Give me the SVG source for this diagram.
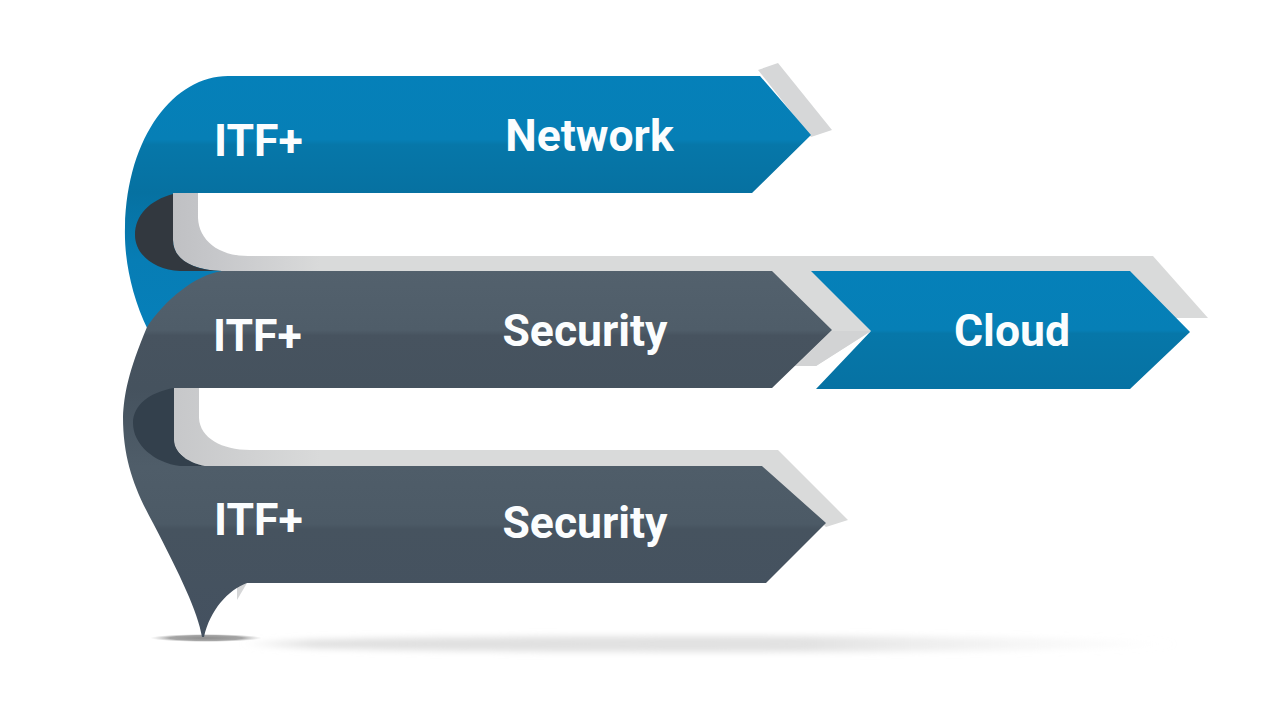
<svg xmlns="http://www.w3.org/2000/svg" width="1280" height="720" viewBox="0 0 1280 720">
<style>
text{font-family:Roboto,"Liberation Sans",sans-serif;font-weight:700;fill:#fbfdfe}
.itf{font-size:44.5px}.lbl{font-size:44.5px;text-anchor:middle}
.fold{fill:url(#fold)}
.fold2{fill:url(#fold2)}
</style>
<defs>
<linearGradient id="blue" x1="0" y1="0" x2="0" y2="1"><stop offset="0" stop-color="#0580b9"/><stop offset=".5" stop-color="#067fb6"/><stop offset=".53" stop-color="#0677a9"/><stop offset="1" stop-color="#0672a3"/></linearGradient>
<linearGradient id="blue1" gradientUnits="userSpaceOnUse" x1="0" y1="76" x2="0" y2="340"><stop offset="0" stop-color="#0580b9"/><stop offset=".24" stop-color="#067fb6"/><stop offset=".26" stop-color="#0677a9"/><stop offset=".44" stop-color="#0671a1"/><stop offset=".7" stop-color="#077db5"/><stop offset="1" stop-color="#0680ba"/></linearGradient>
<linearGradient id="slate2" gradientUnits="userSpaceOnUse" x1="0" y1="271" x2="0" y2="640"><stop offset="0" stop-color="#53616d"/><stop offset=".16" stop-color="#4f5d69"/><stop offset=".175" stop-color="#47535f"/><stop offset=".317" stop-color="#45525e"/><stop offset=".53" stop-color="#4f5d69"/><stop offset=".685" stop-color="#4c5a66"/><stop offset=".7" stop-color="#46535f"/><stop offset="1" stop-color="#445160"/></linearGradient>
<linearGradient id="fold" gradientUnits="userSpaceOnUse" x1="170" y1="0" x2="320" y2="0"><stop offset="0" stop-color="#bfc0c3"/><stop offset=".3" stop-color="#c6c7ca"/><stop offset="1" stop-color="#d9dada"/></linearGradient>
<linearGradient id="fold2" gradientUnits="userSpaceOnUse" x1="170" y1="0" x2="320" y2="0"><stop offset="0" stop-color="#c6c7c9"/><stop offset="1" stop-color="#d9dada"/></linearGradient>
<linearGradient id="floor" x1="0" y1="0" x2="1" y2="0"><stop offset="0" stop-color="#d8d8d8" stop-opacity="0"/><stop offset=".08" stop-color="#e0e0e0"/><stop offset=".6" stop-color="#e2e2e2"/><stop offset="1" stop-color="#eeeeee" stop-opacity="0"/></linearGradient>
<radialGradient id="spot"><stop offset="0" stop-color="#8e8e8e"/><stop offset=".65" stop-color="#a6a6a6"/><stop offset="1" stop-color="#c8c8c8" stop-opacity="0"/></radialGradient>
<filter id="blur" x="-10%" y="-100%" width="120%" height="300%"><feGaussianBlur stdDeviation="3"/></filter>
</defs>
<rect width="1280" height="720" fill="#fff"/>
<g id="floor-shadow">
<ellipse cx="710" cy="644" rx="470" ry="8" fill="url(#floor)" filter="url(#blur)"/>
<ellipse cx="206" cy="638" rx="56" ry="4" fill="url(#spot)"/>
</g>
<g id="node-network">
<path d="M758 70 L778 63 L832 130 L811 137 Z" fill="#d6d7d8"/>
<path d="M228 76 H760 L811 135 L752 193 H185 V262 H222 V285 L148 330 C131 295 124 258 125 227 C127 135 175 76 228 76 Z" fill="url(#blue1)"/>
<text class="itf" x="214" y="156">ITF+</text>
<text class="lbl" x="589.500" y="151">Network</text>
</g>
<g id="node-cloud">
<path d="M173 193 H198 V218 C199 240 218 256 248 256 H1153 L1208 318 H1170 L1100 340 H880 L871 331 L816 366 H780 V340 H700 V271 H222 C196 270 173 262 173 240 Z" class="fold"/>
<path d="M832 331 H871 L816 366 H796 Z" fill="#d2d3d4"/>
<path d="M811 271 H1130 L1190 332 L1130 389 H816 L871 331 Z" fill="url(#blue)"/>
<text class="lbl" x="1012" y="346">Cloud</text>
</g>
<g id="node-security-1">
<path d="M173 194 C150 200 135 215 135 235 C135 255 155 270 180 271 H222 C190 270 173 258 173 240 Z" fill="#32383f"/>
<path d="M222 271 H772 L832 330 L772 388 H185 V417 H123 C124 395 128 372 147 327 C165 300 195 275 222 271 Z" fill="url(#slate2)"/>
<text class="itf" x="213" y="351">ITF+</text>
<text class="lbl" x="585" y="346">Security</text>
</g>
<g id="node-security-2">
<path d="M237 586 L247 583 L237 600 Z" fill="#d5d6d7"/>
<path d="M700 450 H778 L848 520 L826 527 L762 466 H700 Z" fill="#d9dada"/>
<path d="M123 417 H185 V466 H762 L826 523 L766 583 H247 C228 590 210 610 204 637 H202 C198 612 180 575 153 523 C135 490 123 460 123 417 Z" fill="url(#slate2)"/>
<path d="M174 388 H199 V418 C200 438 222 450 250 450 H701 V466 H205 C186 462 174 452 174 440 Z" class="fold2"/>
<path d="M174 388 C150 392 133 405 133 423 C133 445 155 463 180 466 H205 C186 462 174 452 174 440 Z" fill="#33404c"/>
<text class="itf" x="214" y="535">ITF+</text>
<text class="lbl" x="585" y="538">Security</text>
</g>
</svg>
